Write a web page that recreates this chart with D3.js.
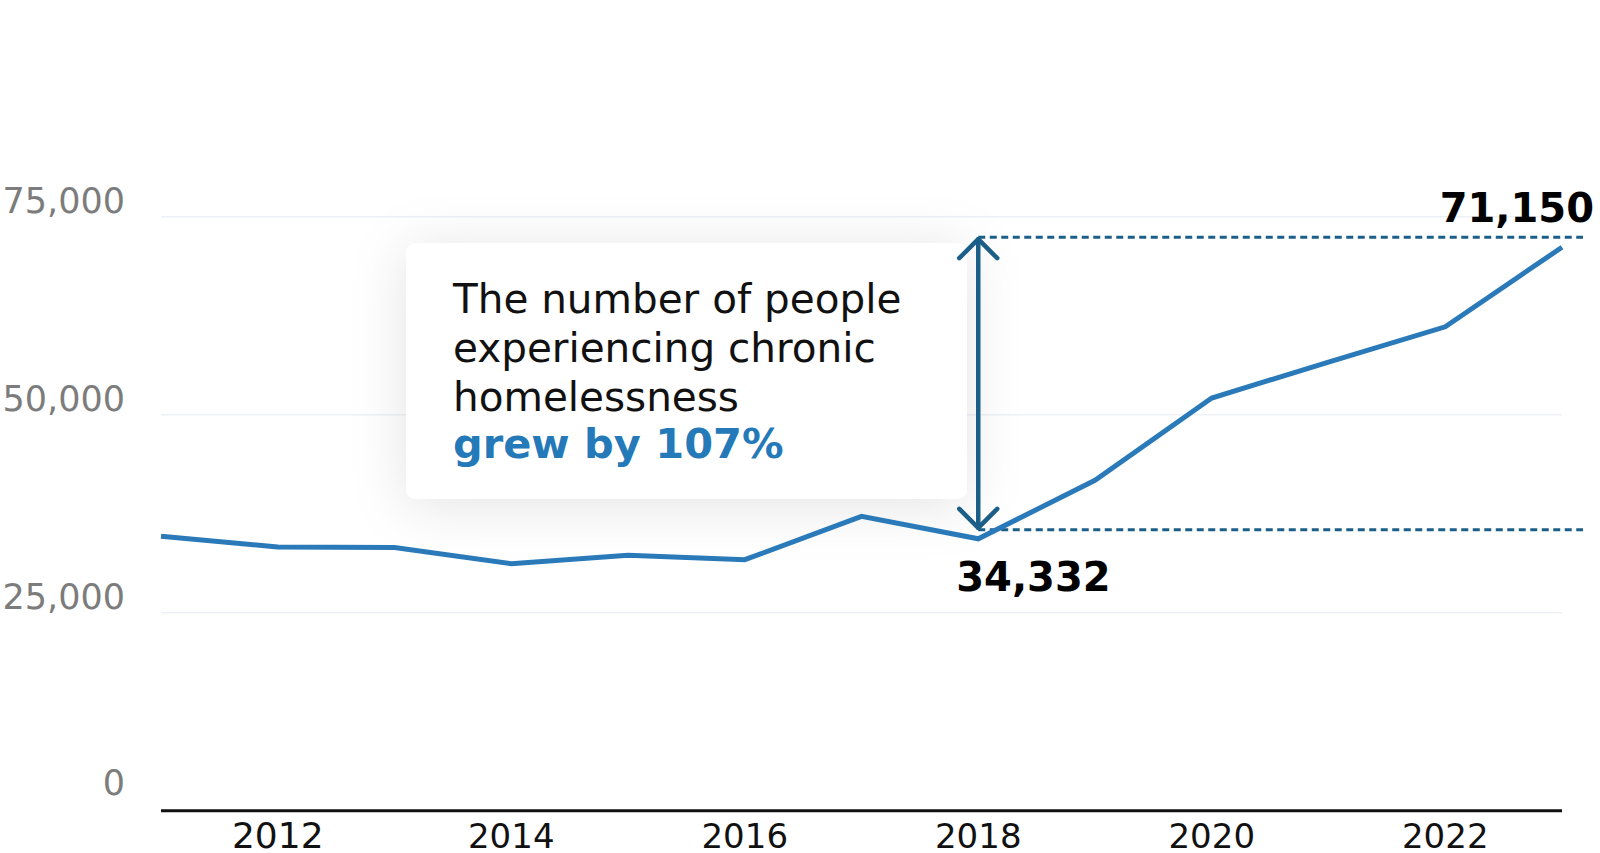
<!DOCTYPE html>
<html>
<head>
<meta charset="utf-8">
<script src="https://cdn.jsdelivr.net/npm/d3@7"></script>
<style>
  html, body { margin: 0; padding: 0; background: #fff; }
  svg { display: block; font-family: "DejaVu Sans", Verdana, sans-serif; }
</style>
</head>
<body>
<svg id="chart" width="1600" height="853"></svg>
<script>
// chronic homelessness, people counted each year
const years = [2011, 2012, 2013, 2014, 2015, 2016, 2017, 2018, 2019, 2020, 2021, 2022, 2023];
const counts = [34650, 33300, 33230, 31190, 32250, 31690, 37170, 34332, 41720, 52110, 56650, 61100, 71150];
const yTicks = [0, 25000, 50000, 75000];
const xTicks = [2012, 2014, 2016, 2018, 2020, 2022];
const noteLines = ["The number of people", "experiencing chronic", "homelessness"];
const noteHighlight = "grew by 107%";
const fromYear = 2018, toYear = 2023;

const svg = d3.select("#chart");
const fmt = d3.format(",");

const x = d3.scaleLinear().domain([2011, 2023]).range([161, 1562]);
const y = d3.scaleLinear().domain([0, 75000]).range([810.7, 216.7]);

const blue = "#2a7ab9", dark = "#1b5f88";

// shadow for the note card
const defs = svg.append("defs");
const f = defs.append("filter").attr("id", "shadow")
  .attr("x", "-40%").attr("y", "-60%").attr("width", "180%").attr("height", "220%");
f.append("feDropShadow")
  .attr("dx", 0).attr("dy", 6)
  .attr("stdDeviation", 28)
  .attr("flood-color", "#000")
  .attr("flood-opacity", 0.11);

// gridlines
svg.append("g").selectAll("line")
  .data(yTicks.filter(d => d > 0))
  .join("line")
  .attr("x1", x.range()[0]).attr("x2", x.range()[1])
  .attr("y1", d => y(d)).attr("y2", d => y(d))
  .attr("stroke", "#edf1f6")
  .attr("stroke-width", 1.5);

// y labels
svg.append("g").selectAll("text")
  .data(yTicks)
  .join("text")
  .attr("x", 125)
  .attr("y", d => d === 0 ? y(d) - 16 : y(d) - 4)
  .attr("text-anchor", "end")
  .attr("fill", "#7c7c7c")
  .style("font-size", "35px")
  .text(d => fmt(d));

// note card
const card = svg.append("g");
card.append("rect")
  .attr("x", 406).attr("y", 243)
  .attr("width", 561).attr("height", 256)
  .attr("rx", 10)
  .attr("fill", "#fff")
  .attr("filter", "url(#shadow)");

card.selectAll("text.line")
  .data(noteLines)
  .join("text")
  .attr("class", "line")
  .attr("x", 453)
  .attr("y", (d, i) => 313 + i * 49)
  .attr("fill", "#111")
  .style("font-size", "40.5px")
  .text(d => d);

card.append("text")
  .attr("x", 453)
  .attr("y", 313 + noteLines.length * 49 - 2)
  .attr("fill", "#2479b8")
  .style("font-size", "41.5px")
  .style("font-weight", "bold")
  .text(noteHighlight);

// x axis
svg.append("line")
  .attr("x1", x.range()[0]).attr("x2", x.range()[1])
  .attr("y1", y(0)).attr("y2", y(0))
  .attr("stroke", "#111")
  .attr("stroke-width", 3);

svg.append("g").selectAll("text")
  .data(xTicks)
  .join("text")
  .attr("x", d => x(d))
  .attr("y", 848)
  .attr("text-anchor", "middle")
  .attr("fill", "#111")
  .style("font-size", (d, i) => i === 0 ? "36px" : "34px")
  .text(d => d);

// reference dotted lines
const vFrom = counts[years.indexOf(fromYear)];
const vTo = counts[years.indexOf(toYear)];
const ax = x(fromYear);
const yTop = y(vTo) - 10, yBot = y(vFrom) - 9;

svg.append("g").selectAll("line")
  .data([yTop, yBot])
  .join("line")
  .attr("x1", ax).attr("x2", x(toYear) + 21)
  .attr("y1", d => d).attr("y2", d => d)
  .attr("stroke", dark)
  .attr("stroke-width", 3)
  .attr("stroke-dasharray", "7,4.5");

// main line
svg.append("path")
  .datum(years.map((yr, i) => [yr, counts[i]]))
  .attr("fill", "none")
  .attr("stroke", blue)
  .attr("stroke-width", 5)
  .attr("d", d3.line().x(d => x(d[0])).y(d => y(d[1])));

// double arrow
const arrow = svg.append("g")
  .attr("stroke", dark)
  .attr("stroke-width", 4.5)
  .attr("stroke-linecap", "round")
  .attr("stroke-linejoin", "round")
  .attr("fill", "none");
arrow.append("line")
  .attr("x1", ax).attr("x2", ax)
  .attr("y1", yTop + 2).attr("y2", yBot - 2);
arrow.append("path")
  .attr("d", `M${ax - 19},${yTop + 21}L${ax},${yTop + 2}L${ax + 19},${yTop + 21}`);
arrow.append("path")
  .attr("d", `M${ax - 19},${yBot - 21}L${ax},${yBot - 2}L${ax + 19},${yBot - 21}`);

// value labels
svg.append("text")
  .attr("x", x(toYear) + 32)
  .attr("y", y(vTo) - 25)
  .attr("text-anchor", "end")
  .attr("fill", "#000")
  .style("font-size", "40px")
  .style("font-weight", "bold")
  .text(fmt(vTo));

svg.append("text")
  .attr("x", ax - 22)
  .attr("y", y(vFrom) + 52)
  .attr("fill", "#000")
  .style("font-size", "40px")
  .style("font-weight", "bold")
  .text(fmt(vFrom));
</script>
</body>
</html>
